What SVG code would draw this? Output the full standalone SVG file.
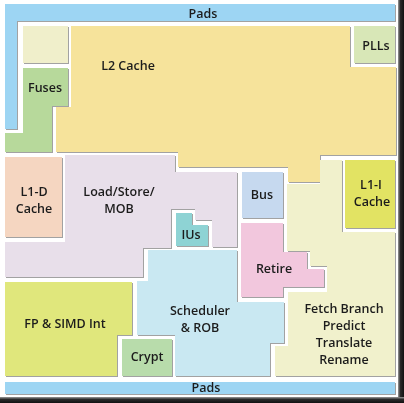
<svg xmlns="http://www.w3.org/2000/svg" width="404" height="403" viewBox="0 0 404 403">
<defs>
<filter id="sh" x="-5%" y="-5%" width="110%" height="110%"><feDropShadow dx="1" dy="1" stdDeviation="0.4" flood-color="#7a7a7a" flood-opacity="0.7"/></filter>
<linearGradient id="gr" x1="0" x2="1" y1="0" y2="0"><stop offset="0" stop-color="#9a9a9a"/><stop offset="0.4" stop-color="#2a2a2a"/><stop offset="1" stop-color="#111"/></linearGradient>
<linearGradient id="gb" x1="0" x2="0" y1="0" y2="1"><stop offset="0" stop-color="#9a9a9a"/><stop offset="0.4" stop-color="#2a2a2a"/><stop offset="1" stop-color="#111"/></linearGradient>
</defs>
<style>
.b{filter:url(#sh)}
text{font-family:"Open Sans","DejaVu Sans",sans-serif;font-weight:600;font-size:12.5px;fill:#1c1c1c;text-anchor:middle}
</style>
<rect x="0" y="0" width="404" height="403" fill="#ffffff"/>
<rect x="398" y="0" width="6" height="403" fill="url(#gr)"/>
<rect x="0" y="397" width="404" height="6" fill="url(#gb)"/>

<g id="pads-top" class="b"><path d="M5,4 H395 V21 H17 V129 H5 Z" fill="#9dd5f3"/><text x="203" y="18">Pads</text></g>
<g id="blank" class="b"><rect x="23" y="26" width="45" height="37" fill="#f0efcb"/></g>
<g id="fuses" class="b"><path d="M23,68 H68 V106 H52 V152 H5 V133 H23 Z" fill="#b7d99b"/><text x="45" y="92">Fuses</text></g>
<g id="l2" class="b"><path d="M71,26 H350 V67 H396 V155 H320 V182 H288 V167 H178 V152 H56 V107 H71 Z" fill="#f6e39b"/><text x="128" y="70">L2 Cache</text></g>
<g id="plls" class="b"><rect x="354" y="26" width="41" height="37" fill="#d8e7b7"/><text x="376" y="50">PLLs</text></g>
<g id="l1d" class="b"><rect x="5" y="157" width="57" height="80" fill="#f5d6c1"/><text x="34" y="196">L1-D</text><text x="34" y="213">Cache</text></g>
<g id="lsm" class="b"><path d="M65,155 H175 V172 H237 V247 H212 V220 H195 V209 H171 V248 H143 V277 H5 V242 H65 Z" fill="#e8dfea"/><text x="119" y="196">Load/Store/</text><text x="119" y="213">MOB</text></g>
<g id="ius" class="b"><path d="M176,213 H192 V225 H208 V246 H176 Z" fill="#8ed3d4"/><text x="191" y="239">IUs</text></g>
<g id="bus" class="b"><rect x="242" y="172" width="41" height="46" fill="#c6d9ef"/><text x="262" y="199">Bus</text></g>
<g id="l1i" class="b"><rect x="345" y="160" width="50" height="68" fill="#e2e364"/><text x="371" y="189">L1-I</text><text x="372" y="206">Cache</text></g>
<g id="fetch" class="b"><path d="M287,184 H320 V160 H342 V232 H395 V376 H275 V346 H288 V292 H327 V266 H310 V251 H287 Z" fill="#f1f1cc"/><text x="344" y="313">Fetch Branch</text><text x="344" y="330">Predict</text><text x="344" y="347">Translate</text><text x="344" y="364">Rename</text></g>
<g id="retire" class="b"><path d="M241,223 H283 V252 H307 V269 H324 V287 H283 V297 H241 Z" fill="#f2c7dd"/><text x="274" y="273">Retire</text></g>
<g id="sched" class="b"><path d="M148,250 H237 V302 H284 V343 H270 V376 H175 V335 H137 V281 H148 Z" fill="#c9e8f2"/><text x="200" y="315">Scheduler</text><text x="200" y="332">&amp; ROB</text></g>
<g id="fp" class="b"><path d="M5,282 H132 V335 H117 V376 H5 Z" fill="#e0e77b"/><text x="65" y="328">FP &amp; SIMD Int</text></g>
<g id="crypt" class="b"><rect x="122" y="339" width="50" height="37" fill="#b8dcab"/><text x="147" y="361">Crypt</text></g>
<g id="pads-bottom" class="b"><rect x="5" y="382" width="390" height="12" fill="#9dd5f3"/><text x="206" y="392">Pads</text></g>
<g id="connectors"/>
</svg>
